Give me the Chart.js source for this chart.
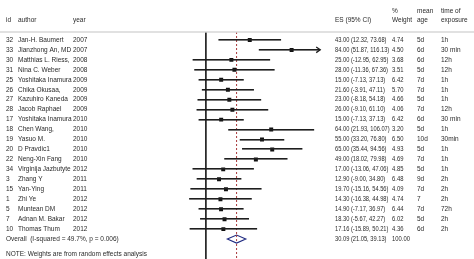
<!DOCTYPE html>
<html><head><meta charset="utf-8">
<script src="https://cdn.jsdelivr.net/npm/chart.js@4"></script>
<style>html,body{margin:0;padding:0;background:#fff}</style>
</head><body><canvas id="c" width="474" height="259"></canvas>
<script>
const ids = ['32','33','30','31','25','26','27','28','17','18','19','20','22','34','3','15','1','5','7','10'];
const authors = ['Jan-H. Baumert','Jianzhong An, MD','Matthias L. Riess,','Nina C. Weber','Yoshitaka Inamura','Chika Okusaa,','Kazuhiro Kaneda','Jacob Raphael','Yoshitaka Inamura','Chen Wang,','Yasuo M.','D Pravdic1','Neng-Xin Fang','Virginija Jazbutyte','Zhang Y','Yan-Ying','Zhi Ye','Muntean DM','Adnan M. Bakar','Thomas Thum'];
const years = ['2007','2007','2008','2008','2009','2009','2009','2009','2010','2010','2010','2010','2010','2012','2011','2011','2012','2012','2012','2012'];
const es = [43.00,84.00,25.00,28.00,15.00,21.60,23.00,26.00,15.00,64.00,55.00,65.00,49.00,17.00,12.90,19.70,14.30,14.90,18.30,17.16];
const lo = [12.32,51.87,-12.95,-11.36,-7.13,-3.91,-8.18,-9.10,-7.13,21.93,33.20,35.44,18.02,-13.06,-9.00,-15.16,-16.38,-7.17,-5.67,-15.89];
const hi = [73.68,116.13,62.95,67.36,37.13,47.11,54.18,61.10,37.13,106.07,76.80,94.56,79.98,47.06,34.80,54.56,44.98,36.97,42.27,50.21];
const weights = ['4.74','4.50','3.68','3.51','6.42','5.70','4.66','4.06','6.42','3.20','6.50','4.93','4.69','4.85','6.48','4.09','4.74','6.44','6.02','4.36'];
const ages = ['5d','6d','6d','5d','7d','7d','5d','7d','6d','5d','10d','5d','7d','5d','9d','7d','7','7d','5d','6d'];
const exposures = ['1h','30 min','12h','12h','1h','1h','1h','12h','30 min','1h','30min','1h','1h','1h','2h','2h','2h','72h','2h','2h'];
const overallLabel = 'Overall  (I-squared = 49.7%, p = 0.006)';
const overallES = 30.09, overallLo = 21.05, overallHi = 39.13;
const overallWeight = '100.00';
const note = 'NOTE: Weights are from random effects analysis';
const X_MIN = -112, X_MAX = 112, Y_MIN = -0.8, Y_MAX = 22;
const overallRow = ids.length;

const FONT = '6.5px "Liberation Sans", Arial, sans-serif';
const TXT = 'rgb(42,42,42)';
const CI_COLOR = 'rgb(30,30,30)';
const fmt = v => v.toFixed(2);

const ciPlugin = {
  id:'forestci',
  afterDatasetsDraw(chart){
    const ctx = chart.ctx, xs = chart.scales.x, ys = chart.scales.y, a = chart.chartArea;
    ctx.save();
    for (let i = 0; i < ids.length; i++) {
      const py = Math.round(ys.getPixelForValue(i));
      const x1 = Math.max(xs.getPixelForValue(lo[i]), a.left);
      const x2 = Math.min(xs.getPixelForValue(hi[i]), a.right);
      ctx.fillStyle = CI_COLOR;
      ctx.fillRect(x1, py - 1, x2 - x1, 1.6);
      if (hi[i] > X_MAX) {
        ctx.strokeStyle = CI_COLOR; ctx.lineWidth = 1.3;
        ctx.beginPath(); ctx.moveTo(x2 - 4, py - 3); ctx.lineTo(x2, py - 0.2); ctx.lineTo(x2 - 4, py + 2.6); ctx.stroke();
      }
    }
    ctx.restore();
  }
};

const tablePlugin = {
  id:'forestTable',
  afterDraw(chart){
    const ctx = chart.ctx, xs = chart.scales.x, ys = chart.scales.y;
    ctx.save();
    ctx.fillStyle = 'rgb(212,212,212)';
    ctx.fillRect(0, ys.getPixelForValue(Y_MIN) - 0.7, 474, 1.4);
    const oy = ys.getPixelForValue(overallRow);
    const dl = xs.getPixelForValue(overallLo), dm = xs.getPixelForValue(overallES), dr = xs.getPixelForValue(overallHi);
    ctx.beginPath();
    ctx.moveTo(dl, oy); ctx.lineTo(dm, oy - 4); ctx.lineTo(dr, oy); ctx.lineTo(dm, oy + 4); ctx.closePath();
    ctx.fillStyle = 'rgb(255,255,255)'; ctx.fill();
    ctx.strokeStyle = 'rgb(31,42,128)'; ctx.lineWidth = 1.1; ctx.stroke();
    ctx.beginPath();
    ctx.strokeStyle = 'rgb(168,56,58)'; ctx.lineWidth = 1; ctx.setLineDash([2, 2]);
    ctx.moveTo(dm, oy - 4); ctx.lineTo(dm, oy + 4); ctx.stroke();
    ctx.setLineDash([]);
    ctx.restore();
    ctx.save();
    ctx.font = FONT; ctx.fillStyle = TXT; ctx.textBaseline = 'middle'; ctx.textAlign = 'left';
    const narrow = (s, x, y, f) => { ctx.save(); ctx.translate(x, y); ctx.scale(f, 1); ctx.fillText(s, 0, 0); ctx.restore(); };
    const hy1 = 11, hy2 = 20;
    ctx.fillText('id', 6, hy2);
    ctx.fillText('author', 18, hy2);
    ctx.fillText('year', 73, hy2);
    ctx.fillText('ES (95% CI)', 335, hy2);
    ctx.fillText('%', 392, hy1); ctx.fillText('Weight', 392, hy2);
    ctx.fillText('mean', 417, hy1); ctx.fillText('age', 417, hy2);
    ctx.fillText('time of', 441, hy1); ctx.fillText('exposure', 441, hy2);
    for (let i = 0; i < ids.length; i++) {
      const y = ys.getPixelForValue(i);
      ctx.fillText(ids[i], 6, y);
      ctx.fillText(authors[i], 18, y);
      ctx.fillText(years[i], 73, y);
      narrow(fmt(es[i]) + ' (' + fmt(lo[i]) + ', ' + fmt(hi[i]) + ')', 335, y, 0.88);
      narrow(weights[i], 392, y, 0.9);
      ctx.fillText(ages[i], 417, y);
      ctx.fillText(exposures[i], 441, y);
    }
    ctx.fillText(overallLabel, 6, oy);
    narrow(fmt(overallES) + ' (' + fmt(overallLo) + ', ' + fmt(overallHi) + ')', 335, oy, 0.88);
    narrow(overallWeight, 392, oy, 0.9);
    ctx.fillText(note, 6, ys.getPixelForValue(overallRow + 1.5));
    ctx.restore();
  }
};

new Chart(document.getElementById('c'), {
  type:'scatter',
  data:{datasets:[
    {data:es.map((v,i)=>({x:v,y:i})), pointStyle:'rect', pointRadius:2.8, backgroundColor:'rgb(17,17,17)', borderColor:'rgb(17,17,17)', borderWidth:0},
    {data:[{x:0,y:Y_MIN},{x:0,y:Y_MAX}], showLine:true, borderColor:'rgb(34,34,34)', borderWidth:1, pointRadius:0},
    {data:[{x:overallES,y:Y_MIN},{x:overallES,y:Y_MAX}], showLine:true, borderColor:'rgb(168,56,58)', borderWidth:1, borderDash:[2,2], pointRadius:0}
  ]},
  options:{
    responsive:false, animation:false,
    layout:{autoPadding:false, padding:{left:91.5, right:153.8, top:32, bottom:0}},
    plugins:{legend:{display:false}, tooltip:{enabled:false}},
    scales:{
      x:{type:'linear', min:X_MIN, max:X_MAX, display:false},
      y:{type:'linear', min:Y_MIN, max:Y_MAX, reverse:true, display:false}
    }
  },
  plugins:[ciPlugin, tablePlugin]
});
</script></body></html>
